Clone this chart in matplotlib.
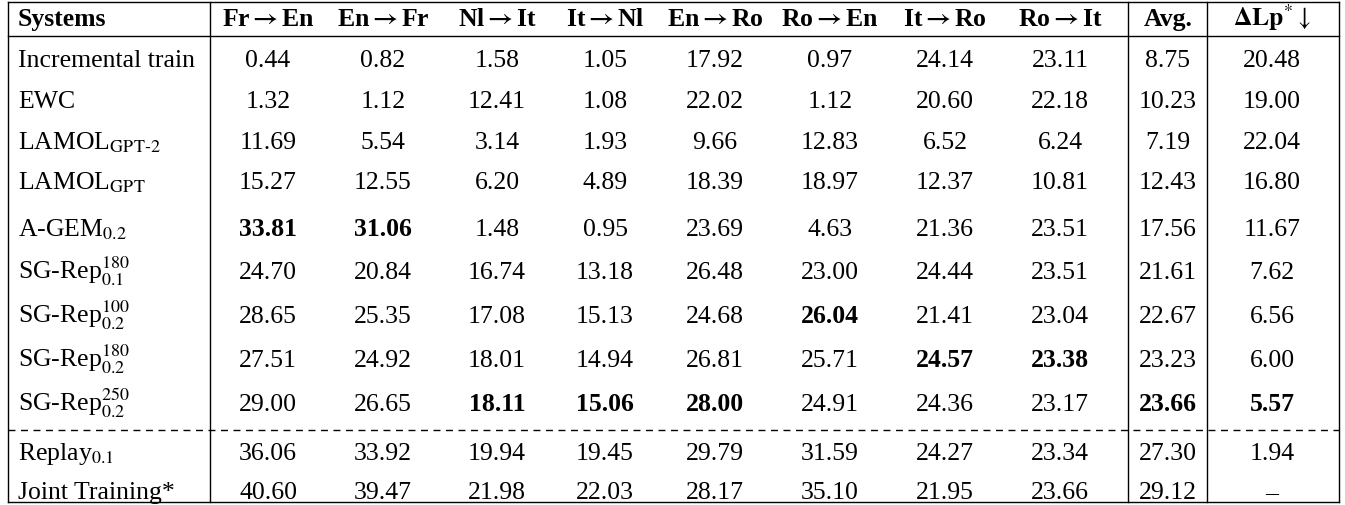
import matplotlib
matplotlib.use("Agg")
import matplotlib.pyplot as plt

plt.rcParams["font.family"] = ["Liberation Serif", "DejaVu Serif"]
plt.rcParams["mathtext.fontset"] = "stix"

columns = [r"Fr$\mathbf{\rightarrow}$En", r"En$\mathbf{\rightarrow}$Fr",
           r"Nl$\mathbf{\rightarrow}$It", r"It$\mathbf{\rightarrow}$Nl",
           r"En$\mathbf{\rightarrow}$Ro", r"Ro$\mathbf{\rightarrow}$En",
           r"It$\mathbf{\rightarrow}$Ro", r"Ro$\mathbf{\rightarrow}$It",
           "Avg.", r"$\mathbf{\Delta Lp}^{*}\downarrow$"]
systems = ["Incremental train", "EWC", r"LAMOL$_{\mathrm{GPT\text{-}2}}$",
           r"LAMOL$_{\mathrm{GPT}}$", r"A-GEM$_{0.2}$",
           r"SG-Rep$_{0.1}^{180}$", r"SG-Rep$_{0.2}^{100}$",
           r"SG-Rep$_{0.2}^{180}$", r"SG-Rep$_{0.2}^{250}$",
           r"Replay$_{0.1}$", "Joint Training*"]

incremental = ["0.44", "0.82", "1.58", "1.05", "17.92", "0.97", "24.14", "23.11", "8.75", "20.48"]
ewc = ["1.32", "1.12", "12.41", "1.08", "22.02", "1.12", "20.60", "22.18", "10.23", "19.00"]
lamol_gpt2 = ["11.69", "5.54", "3.14", "1.93", "9.66", "12.83", "6.52", "6.24", "7.19", "22.04"]
lamol_gpt = ["15.27", "12.55", "6.20", "4.89", "18.39", "18.97", "12.37", "10.81", "12.43", "16.80"]
agem = ["33.81", "31.06", "1.48", "0.95", "23.69", "4.63", "21.36", "23.51", "17.56", "11.67"]
sgrep_01_180 = ["24.70", "20.84", "16.74", "13.18", "26.48", "23.00", "24.44", "23.51", "21.61", "7.62"]
sgrep_02_100 = ["28.65", "25.35", "17.08", "15.13", "24.68", "26.04", "21.41", "23.04", "22.67", "6.56"]
sgrep_02_180 = ["27.51", "24.92", "18.01", "14.94", "26.81", "25.71", "24.57", "23.38", "23.23", "6.00"]
sgrep_02_250 = ["29.00", "26.65", "18.11", "15.06", "28.00", "24.91", "24.36", "23.17", "23.66", "5.57"]
replay = ["36.06", "33.92", "19.94", "19.45", "29.79", "31.59", "24.27", "23.34", "27.30", "1.94"]
joint = ["40.60", "39.47", "21.98", "22.03", "28.17", "35.10", "21.95", "23.66", "29.12", "–"]
rows = [incremental, ewc, lamol_gpt2, lamol_gpt, agem, sgrep_01_180,
        sgrep_02_100, sgrep_02_180, sgrep_02_250, replay, joint]

bold_cells = {(4, 0), (4, 1), (6, 5), (7, 6), (7, 7),
              (8, 2), (8, 3), (8, 4), (8, 8), (8, 9)}

# layout in pixels (baselines)
W, H = 1345, 506
col_x = [268, 383, 497, 605, 715, 830, 945, 1060, 1168, 1272]
row_y = [67, 108, 149, 189, 236, 279, 323, 367, 411, 460, 499]
header_y = 26
fs = 18.5

fig = plt.figure(figsize=(W / 100, H / 100), dpi=100)
ax = fig.add_axes([0, 0, 1, 1])
ax.set_xlim(0, W)
ax.set_ylim(H, 0)
ax.axis("off")

ax.text(18, header_y, "Systems", fontsize=fs, fontweight="bold", va="baseline")
for x, c in zip(col_x, columns):
    ax.text(x, header_y, c, fontsize=fs, fontweight="bold", ha="center", va="baseline")

for r, (name, vals) in enumerate(zip(systems, rows)):
    ax.text(18, row_y[r], name, fontsize=fs, va="baseline")
    for c, (x, v) in enumerate(zip(col_x, vals)):
        ax.text(x, row_y[r], v, fontsize=fs, ha="center", va="baseline",
                fontweight="bold" if (r, c) in bold_cells else "normal")

lw = 1.0
ax.plot([8, 1339], [3, 3], color="black", lw=lw)
ax.plot([8, 1339], [37, 37], color="black", lw=lw)
ax.plot([8, 1339], [503, 503], color="black", lw=lw)
ax.plot([8, 1339], [431, 431], color="black", lw=lw, ls=(0, (5, 4)))
for x in [8, 210, 1128, 1207, 1339]:
    ax.plot([x, x], [3, 503], color="black", lw=lw)

fig.savefig("out.png", dpi=100)
